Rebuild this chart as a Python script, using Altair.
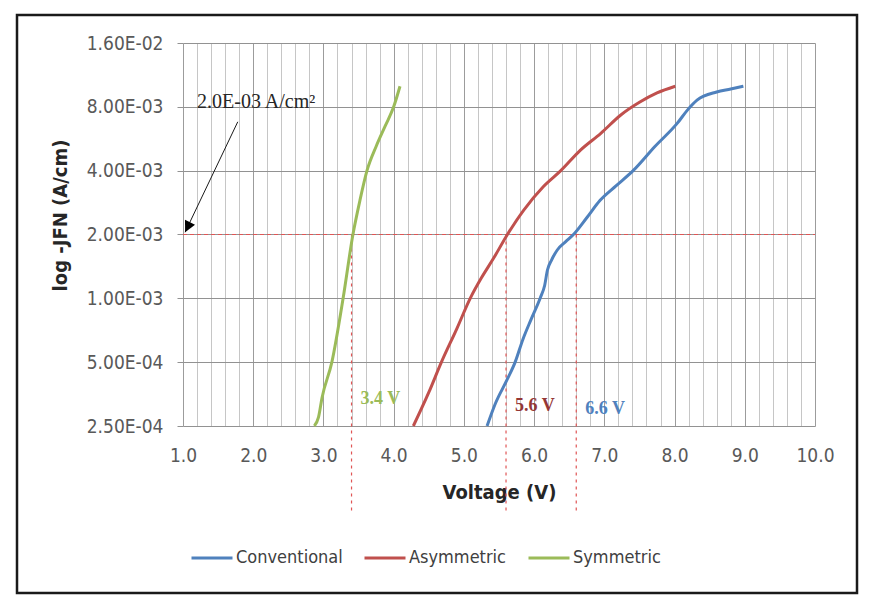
import altair as alt
import pandas as pd

# ---- measured J-V curves (voltage in V, current density in A/cm) ----
conv_v = [5.33, 5.45, 5.61, 5.73, 5.84, 5.96, 6.09, 6.15, 6.19, 6.25, 6.33, 6.45,
          6.56, 6.75, 6.94, 7.17, 7.41, 7.72, 8.04, 8.18, 8.32, 8.60, 8.80, 8.98]
conv_j = [2.5e-4, 3.2e-4, 4.1e-4, 5.0e-4, 6.4e-4, 8.0e-4, 1.01e-3, 1.15e-3, 1.36e-3,
          1.52e-3, 1.69e-3, 1.85e-3, 2.0e-3, 2.4e-3, 2.9e-3, 3.4e-3, 4.0e-3, 5.2e-3,
          6.7e-3, 7.7e-3, 8.6e-3, 9.4e-3, 9.7e-3, 1.0e-2]

asym_v = [4.28, 4.50, 4.68, 4.90, 5.09, 5.25, 5.42, 5.62, 5.85, 6.13, 6.38, 6.66,
          6.95, 7.23, 7.50, 7.75, 8.01]
asym_j = [2.5e-4, 3.6e-4, 5.0e-4, 7.2e-4, 1.0e-3, 1.25e-3, 1.54e-3, 2.0e-3, 2.6e-3,
          3.36e-3, 4.0e-3, 5.0e-3, 6.0e-3, 7.3e-3, 8.4e-3, 9.3e-3, 1.0e-2]

sym_v = [2.87, 2.93, 2.98, 3.12, 3.28, 3.42, 3.52, 3.62, 3.75, 3.88, 4.00, 4.09]
sym_j = [2.5e-4, 2.75e-4, 3.4e-4, 5.0e-4, 1.0e-3, 2.0e-3, 2.9e-3, 4.0e-3, 5.2e-3,
         6.5e-3, 8.0e-3, 1.0e-2]

series_names = ["Conventional", "Asymmetric", "Symmetric"]
series_colors = ["#4F81BD", "#C0504D", "#9BBB59"]

# reference current density and the turn-on voltage read at it
j_ref = 2.0e-3
j_ref_text = "2.0E-03 A/cm\u00b2"
thr_v = [3.4, 5.6, 6.6]
thr_text = ["3.4 V", "5.6 V", "6.6 V"]
thr_colors = ["#9BBB59", "#953735", "#4F81BD"]

# axis ranges and ticks
x_min, x_max = 1.0, 10.0
y_ticks = [2.5e-4, 5e-4, 1e-3, 2e-3, 4e-3, 8e-3, 1.6e-2]
x_grid = [round(x_min + 0.2 * i, 1) for i in range(46)]

# annotation arrow: from under the label to the 2.0E-03 line
arrow_v = [1.78, 1.03]
arrow_j = [6.8e-3, 2.05e-3]

rows = []
for name, vs, js in [("Conventional", conv_v, conv_j),
                     ("Asymmetric", asym_v, asym_j),
                     ("Symmetric", sym_v, sym_j)]:
    for i, (v, j) in enumerate(zip(vs, js)):
        rows.append({"Series": name, "V": v, "J": j, "order": i})
curves = pd.DataFrame(rows)

W, H = 632, 383
LABEL_FONT = "DejaVu Sans Condensed, Liberation Sans, sans-serif"
SERIF = "Liberation Serif, Times New Roman, serif"

x_scale = alt.Scale(domain=[x_min, x_max], nice=False, zero=False)
y_scale = alt.Scale(type="log", base=2, domain=[y_ticks[0], y_ticks[-1]], nice=False)

is_major = "abs(datum.value - round(datum.value)) < 0.01"
x_axis = alt.Axis(
    values=x_grid,
    tickCount=len(x_grid) + 4,
    labelExpr=is_major + " ? format(datum.value, '.1f') : ''",
    labelOverlap=False,
    labelFlush=False,
    grid=True,
    gridColor={"condition": {"test": is_major, "value": "#9c9c9c"},
               "value": "#c6c6c6"},
    gridWidth=1,
    ticks=False,
    domain=False,
    labelFont=LABEL_FONT, labelFontSize=19, labelColor="#595959",
    labelPadding=20,
    title="Voltage (V)",
    titleFont=LABEL_FONT, titleFontSize=20, titleFontWeight="bold", titleColor="#262626",
    titleY=66, titleBaseline="middle",
)
y_axis = alt.Axis(
    values=y_ticks,
    tickCount=len(y_ticks) + 2,
    labelExpr="replace(format(datum.value, '.2e'), 'e-', 'E-0')",
    labelOverlap=False,
    grid=True, gridColor="#929292", gridWidth=1,
    ticks=True, tickSize=6, tickColor="#929292",
    domain=False,
    labelFont=LABEL_FONT, labelFontSize=19, labelColor="#595959",
    labelPadding=14,
    title="log -JFN (A/cm)",
    titleFont=LABEL_FONT, titleFontSize=20, titleFontWeight="bold", titleColor="#262626",
    titleAngle=270, titleX=-123, titleY=172, titleAlign="center", titleBaseline="middle",
)

lines = alt.Chart(curves).mark_line(strokeWidth=3, interpolate="monotone").encode(
    x=alt.X("V:Q", scale=x_scale, axis=x_axis),
    y=alt.Y("J:Q", scale=y_scale, axis=y_axis),
    color=alt.Color(
        "Series:N",
        scale=alt.Scale(domain=series_names, range=series_colors),
        legend=alt.Legend(
            orient="none", legendX=7, legendY=493, direction="horizontal",
            title=None, padding=0,
            symbolType="stroke", symbolSize=1681, symbolStrokeWidth=3,
            labelFont=LABEL_FONT, labelFontSize=18, labelColor="#404040",
            labelOffset=2, columnPadding=15,
        ),
    ),
    order="order:Q",
)

# dashed red reference line at 2.0E-03 A/cm^2
ref_df = pd.DataFrame({"x": [x_min], "x2": [x_max], "J": [j_ref]})
ref_line = alt.Chart(ref_df).mark_rule(
    color="#E05555", strokeDash=[4, 3], strokeWidth=1.2
).encode(x="x:Q", x2="x2:Q", y="J:Q")

# dashed verticals dropping from the reference line to below the axis
thr_df = pd.DataFrame({"V": thr_v, "J": [j_ref] * len(thr_v), "label": thr_text})
thr_lines = alt.Chart(thr_df).mark_rule(
    color="#E05555", strokeDash=[3, 4], strokeWidth=1.2
).encode(x="V:Q", y="J:Q", y2=alt.value(470))

label_dy = [-18, -11, -8]
thr_labels = []
for i in range(len(thr_v)):
    one = pd.DataFrame({"V": [thr_v[i]], "J": [y_ticks[0]], "label": [thr_text[i]]})
    thr_labels.append(
        alt.Chart(one).mark_text(
            align="left", baseline="bottom", dx=9, dy=label_dy[i],
            font=SERIF, fontSize=18, fontWeight="bold", color=thr_colors[i],
        ).encode(x="V:Q", y="J:Q", text="label:N")
    )

# "2.0E-03 A/cm²" callout with its arrow
callout_df = pd.DataFrame({"V": [1.2], "J": [8e-3], "label": [j_ref_text]})
callout = alt.Chart(callout_df).mark_text(
    align="left", baseline="alphabetic", dy=1,
    font=SERIF, fontSize=20, color="#262626",
).encode(x="V:Q", y="J:Q", text="label:N")

arrow_df = pd.DataFrame({"V": arrow_v, "J": arrow_j, "order": [0, 1]})
arrow_shaft = alt.Chart(arrow_df).mark_line(color="#1a1a1a", strokeWidth=1).encode(
    x="V:Q", y="J:Q", order="order:Q"
)
head_df = pd.DataFrame({"V": [arrow_v[-1]], "J": [arrow_j[-1]]})
arrow_head = alt.Chart(head_df).mark_point(
    shape="M0,0 L0.5,1 L-0.5,1 Z", filled=True, color="#000000",
    size=500, angle=206, opacity=1,
).encode(x="V:Q", y="J:Q")

# outer frame around the whole figure
frame = alt.Chart(alt.Data(values=[{}])).mark_rect(
    fill=None, stroke="#1a1a1a", strokeWidth=2.5
).encode(
    x=alt.value(-166), x2=alt.value(674), y=alt.value(-28), y2=alt.value(550)
)

chart = alt.layer(
    ref_line, thr_lines, lines, *thr_labels, callout, arrow_shaft, arrow_head, frame
).properties(
    width=W, height=H,
    autosize=alt.AutoSizeParams(type="none"),
    padding={"left": 183, "top": 43, "right": 76, "bottom": 174},
    background="white",
).configure_view(stroke=None)

chart.save("out.html", embed_options={"renderer": "svg", "actions": False})
